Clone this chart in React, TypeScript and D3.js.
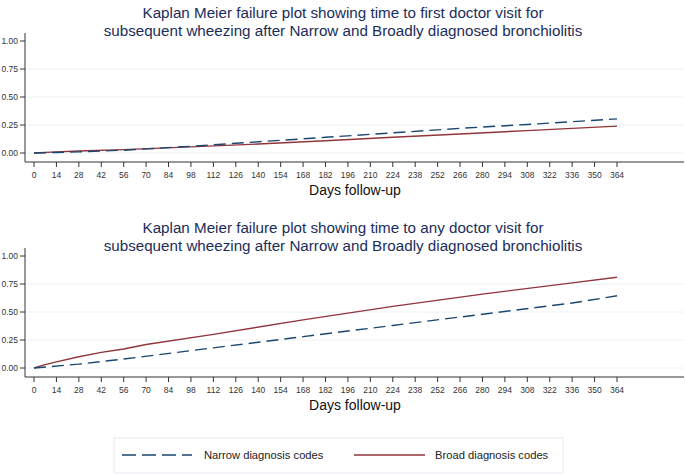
import React from "react";
import * as d3 from "d3";

const xTicks = [0,14,28,42,56,70,84,98,112,126,140,154,168,182,196,210,224,238,252,266,280,294,308,322,336,350,364];
const yTicks = [0, 0.25, 0.5, 0.75, 1];

const topTitle = ["Kaplan Meier failure plot showing time to first doctor visit for", "subsequent wheezing after Narrow and Broadly diagnosed bronchiolitis"];
const bottomTitle = ["Kaplan Meier failure plot showing time to any doctor visit for", "subsequent wheezing after Narrow and Broadly diagnosed bronchiolitis"];

const topDays = [0, 14, 28, 56, 98, 140, 182, 224, 266, 308, 364];
const topNarrow = [0, 0.005, 0.01, 0.025, 0.06, 0.10, 0.14, 0.18, 0.22, 0.255, 0.305];
const topBroad = [0, 0.01, 0.018, 0.03, 0.055, 0.08, 0.11, 0.14, 0.17, 0.20, 0.24];

const botDaysBroad = [0, 7, 14, 28, 42, 56, 70, 112, 168, 224, 280, 336, 364];
const botBroad = [0, 0.03, 0.055, 0.10, 0.14, 0.17, 0.21, 0.30, 0.43, 0.55, 0.66, 0.76, 0.81];
const botDaysNarrow = [0, 28, 56, 112, 168, 224, 280, 336, 364];
const botNarrow = [0, 0.035, 0.08, 0.18, 0.28, 0.38, 0.48, 0.58, 0.645];

const seriesNames = ["Narrow diagnosis codes", "Broad diagnosis codes"];
const NAVY = "#1a476f";
const RED = "#90353b";
const FONT = "Arial, 'Liberation Sans', sans-serif";

function Panel({ top, title, narrow, broad }: { top: number; title: string[]; narrow: [number, number][]; broad: [number, number][] }) {
  const x = d3.scaleLinear().domain([0, 364]).range([34, 617]);
  const y = d3.scaleLinear().domain([0, 1]).range([top + 112, top]);
  const axisY = top + 121;
  const line = d3.line<[number, number]>().x(d => x(d[0])).y(d => y(d[1]));
  return (
    <g>
      {title.map((t, i) => (
        <text key={i} x={343} y={top - 23 + i * 18} textAnchor="middle" fontSize={15.2} fill="#1c2d5a" fontFamily={FONT}>{t}</text>
      ))}
      {yTicks.map(v => (
        <g key={v}>
          {v < 1 && <line x1={26} x2={684} y1={y(v)} y2={y(v)} stroke="#eaf2f3" strokeWidth={1} />}
          <line x1={20} x2={25} y1={y(v)} y2={y(v)} stroke="#333" />
          <text x={18} y={y(v) + 3} textAnchor="end" fontSize={8.5} fill="#333" fontFamily={FONT}>{d3.format(".2f")(v)}</text>
        </g>
      ))}
      <line x1={25} x2={25} y1={top - 8} y2={axisY} stroke="#333" />
      <line x1={25} x2={684} y1={axisY} y2={axisY} stroke="#333" />
      {xTicks.map(v => (
        <g key={v}>
          <line x1={x(v)} x2={x(v)} y1={axisY} y2={axisY + 5} stroke="#333" />
          <text x={x(v)} y={axisY + 16} textAnchor="middle" fontSize={8.5} fill="#333" fontFamily={FONT}>{v}</text>
        </g>
      ))}
      <text x={355} y={axisY + 33} textAnchor="middle" fontSize={14} fill="#111" fontFamily={FONT}>Days follow-up</text>
      <path d={line(broad) || ""} fill="none" stroke={RED} strokeWidth={1.4} />
      <path d={line(narrow) || ""} fill="none" stroke={NAVY} strokeWidth={1.4} strokeDasharray="12,6" />
    </g>
  );
}

export default function App() {
  const tN = topDays.map((d, i) => [d, topNarrow[i]] as [number, number]);
  const tB = topDays.map((d, i) => [d, topBroad[i]] as [number, number]);
  const bN = botDaysNarrow.map((d, i) => [d, botNarrow[i]] as [number, number]);
  const bB = botDaysBroad.map((d, i) => [d, botBroad[i]] as [number, number]);
  return (
    <svg width={685} height={474} style={{ position: "absolute", left: 0, top: 0, background: "#fff" }}>
      <rect width={685} height={474} fill="#fff" />
      <Panel top={41} title={topTitle} narrow={tN} broad={tB} />
      <Panel top={256} title={bottomTitle} narrow={bN} broad={bB} />
      <rect x={114} y={438} width={449} height={35} fill="#fff" stroke="#e6eef0" />
      <line x1={122} x2={192} y1={455} y2={455} stroke={NAVY} strokeWidth={1.4} strokeDasharray="14,6" />
      <text x={204} y={459} fontSize={11.2} fill="#222" fontFamily={FONT}>{seriesNames[0]}</text>
      <line x1={354} x2={425} y1={455} y2={455} stroke={RED} strokeWidth={1.4} />
      <text x={435} y={459} fontSize={11.2} fill="#222" fontFamily={FONT}>{seriesNames[1]}</text>
    </svg>
  );
}
